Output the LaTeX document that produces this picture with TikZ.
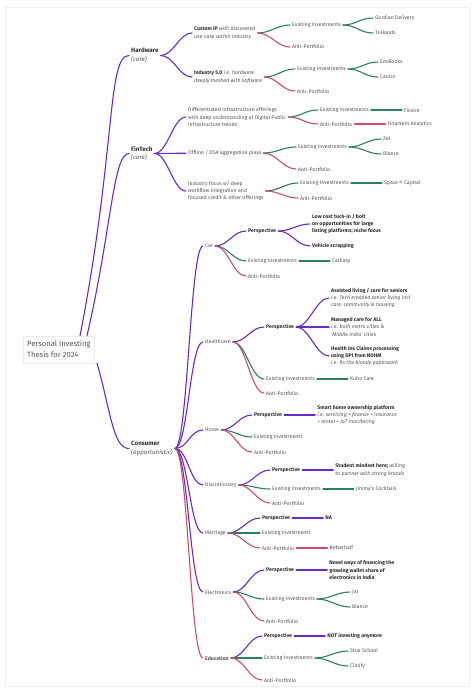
\documentclass[tikz,border=0pt]{standalone}
\usepackage{fontspec}
\setmainfont{Fira Sans}
\usepackage{tikz}
\usetikzlibrary{positioning}

\definecolor{mmpurple}{HTML}{6A2BC4}
\definecolor{mmgreen}{HTML}{2F7D62}
\definecolor{mmred}{HTML}{C8506A}
\definecolor{mmtext}{HTML}{555555}
\definecolor{mmdark}{HTML}{2E2E2E}

\newcommand{\mmbold}[1]{{\bfseries\color{mmdark}#1}}
\newcommand{\mmital}[1]{{\itshape #1}}

\begin{document}
\begin{tikzpicture}[
  x=1pt, y=1pt,
  node distance=31pt,
  item/.style={anchor=west, inner xsep=2pt, inner ysep=1pt, align=left, text=mmtext, font=\fontsize{5.2}{7.3}\selectfont},
  bitem/.style={item, font=\fontsize{5.2}{7.3}\selectfont\bfseries, text=mmdark},
  topic/.style={anchor=west, inner xsep=2pt, inner ysep=1pt, align=left, text=mmtext, font=\fontsize{6.2}{8.8}\selectfont},
  root/.style={anchor=west, draw=black!7, fill=white, inner xsep=4pt, inner ysep=5pt, align=left, text=mmtext, font=\fontsize{7.6}{11}\selectfont},
  link/.style={line width=1.1pt, line cap=round},
  plink/.style={link, mmpurple},
  glink/.style={link, mmgreen},
  rlink/.style={link, mmred},
  fork/.style={out=0, in=180, distance=13pt}
]
  \useasboundingbox (0,0) rectangle (474,-691);
  \draw[black!6, line width=0.6pt] (5,-7) rectangle (469,-686);

  \node[root] (root) at (23,-349.5) {Personal Investing\\Thesis for 2024};

  % core themes
  \node[topic] (hw) at (129,-55.5) {\mmbold{Hardware}\\\mmital{(core)}};
  \node[topic] (ft) at (129,-153.5) {\mmbold{FinTech}\\\mmital{(core)}};
  \node[topic] (cs) at (129,-448.5) {\mmbold{Consumer}\\\mmital{(opportunistic)}};

  \draw[plink] ([xshift=57pt]root.north west) to[out=79, in=180, out distance=190pt, in distance=22pt] (hw);
  \draw[plink] ([xshift=64pt]root.north west) to[out=77, in=180, out distance=110pt, in distance=16pt] (ft);
  \draw[plink] ([xshift=74pt]root.south west) to[out=-74, in=180, out distance=50pt, in distance=16pt] (cs);

  % hardware
  \node[item] (cip) at (192,-33) {\mmbold{Custom IP} \mmital{with discovered}\\\mmital{use-case within industry}};
  \node[item] (ind) at (192,-77) {\mmbold{Industry 5.0} \mmital{i.e. hardware}\\\mmital{deeply meshed with software}};
  \node[item] (cipEI) at (290,-25) {Existing Investments};
  \node[item] (cipAP) at (290,-47) {Anti-Portfolio};
  \node[item] (gordian) at (373,-18) {Gordian Delivery};
  \node[item] (tohands) at (373,-33) {ToHands};
  \node[item] (indEI) at (295,-69) {Existing Investments};
  \node[item] (indAP) at (295,-91) {Anti-Portfolio};
  \node[item] (ezo) at (378,-62) {EzoBooks};
  \node[item] (cautio) at (378,-77) {Cautio};

  \draw[plink] (hw) to[fork] (cip);
  \draw[plink] (hw) to[fork] (ind);
  \draw[glink] (cip) to[fork] (cipEI);
  \draw[rlink] (cip) to[fork] (cipAP);
  \draw[glink] (cipEI) to[fork] (gordian);
  \draw[glink] (cipEI) to[fork] (tohands);
  \draw[glink] (ind) to[fork] (indEI);
  \draw[rlink] (ind) to[fork] (indAP);
  \draw[glink] (indEI) to[fork] (ezo);
  \draw[glink] (indEI) to[fork] (cautio);

  % fintech
  \node[item] (dif) at (186,-117) {Differentiated infrastructure offerings\\with deep understanding of Digital Public\\Infrastructure trends};
  \node[item] (off) at (186,-153) {Offline / DSA aggregation plays};
  \node[item] (fin) at (186,-191) {Industry focus w/ deep\\workflow integration and\\focused credit \& other offerings};
  \node[item] (difEI) at (318,-110) {Existing Investments};
  \node[item] (difAP) at (318,-124) {Anti-Portfolio};
  \node[item, right=of difEI] (finsire) {Finsire};
  \node[item, right=of difAP] (finarkein) {Finarkein Analytics};
  \node[item] (offEI) at (296,-147) {Existing Investments};
  \node[item] (offAP) at (296,-169) {Anti-Portfolio};
  \node[item] (zet) at (381,-139) {Zet};
  \node[item] (blance) at (381,-154) {Blance};
  \node[item] (finEI) at (298,-183) {Existing Investments};
  \node[item] (finAP) at (298,-198) {Anti-Portfolio};
  \node[item, right=of finEI] (spacey) {Space-Y Capital};

  \draw[plink] (ft) to[fork] (dif);
  \draw[plink] (ft) -- (off);
  \draw[plink] (ft) to[fork] (fin);
  \draw[glink] (dif) to[fork] (difEI);
  \draw[rlink] (dif) to[fork] (difAP);
  \draw[glink] (difEI) -- (finsire);
  \draw[rlink] (difAP) -- (finarkein);
  \draw[glink] (off) to[fork] (offEI);
  \draw[rlink] (off) to[fork] (offAP);
  \draw[glink] (offEI) to[fork] (zet);
  \draw[glink] (offEI) to[fork] (blance);
  \draw[glink] (fin) to[fork] (finEI);
  \draw[rlink] (fin) to[fork] (finAP);
  \draw[glink] (finEI) -- (spacey);

  % consumer
  \node[item] (car) at (203,-246) {Car};
  \node[item] (hc) at (203,-342) {Healthcare};
  \node[item] (home) at (203,-430) {Home};
  \node[item] (disc) at (203,-485) {Discretionary};
  \node[item] (marr) at (203,-533) {Marriage};
  \node[item] (elec) at (203,-592) {Electronics};
  \node[item, font=\fontsize{5.2}{7.3}\selectfont\bfseries] (edu) at (203,-658) {Education};

  \foreach \cat in {car,hc,home,disc,marr,elec}
    \draw[plink] (cs) to[fork] (\cat);
  \draw[rlink] (cs) to[fork] (edu);

  % car
  \node[bitem] (carP) at (246,-231) {Perspective};
  \node[item] (carEI) at (246,-261) {Existing Investments};
  \node[item] (carAP) at (246,-276) {Anti-Portfolio};
  \node[bitem] (lowcost) at (310,-224) {Low cost tuck-in / bolt\\on opportunities for large\\listing platforms; niche focus};
  \node[bitem] (vehicle) at (310,-246) {Vehicle scrapping};
  \node[item, right=of carEI] (careasy) {CarEasy};

  \draw[plink] (car) to[fork] (carP);
  \draw[glink] (car) to[fork] (carEI);
  \draw[rlink] (car) to[fork] (carAP);
  \draw[plink] (carP) to[fork] (lowcost);
  \draw[plink] (carP) to[fork] (vehicle);
  \draw[glink] (carEI) -- (careasy);

  % healthcare
  \node[bitem] (hcP) at (264,-327) {Perspective};
  \node[item] (hcEI) at (264,-379) {Existing Investments};
  \node[item] (hcAP) at (264,-393) {Anti-Portfolio};
  \node[item] (assist) at (329,-298) {\mmbold{Assisted living / care for seniors}\\\mmital{i.e. Tech enabled senior living incl}\\\mmital{care, community \& housing}};
  \node[item] (managed) at (329,-327) {\mmbold{Managed care for ALL}\\\mmital{i.e. both metro cities \&}\\\mmital{`Middle India' cities}};
  \node[item] (claims) at (329,-356) {\mmbold{Health Ins Claims processing}\\\mmbold{using DPI from NDHM}\\\mmital{i.e. fix the bloody paperwork}};
  \node[item, right=of hcEI] (kubo) {Kubo Care};

  \draw[plink] (hc) to[fork] (hcP);
  \draw[glink] (hc) to[fork] (hcEI);
  \draw[rlink] (hc) to[fork] (hcAP);
  \draw[plink] (hcP) to[fork] (assist);
  \draw[plink] (hcP) -- (managed);
  \draw[plink] (hcP) to[fork] (claims);
  \draw[glink] (hcEI) -- (kubo);

  % home
  \node[bitem] (homeP) at (252,-415) {Perspective};
  \node[item] (homeEI) at (252,-437) {Existing Investments};
  \node[item] (homeAP) at (252,-452) {Anti-Portfolio};
  \node[item, right=of homeP] (smart) {\mmbold{Smart home ownership platform}\\\mmital{i.e. servicing + finance + insurance}\\\mmital{+ rental + IoT monitoring}};

  \draw[plink] (home) to[fork] (homeP);
  \draw[glink] (home) to[fork] (homeEI);
  \draw[rlink] (home) to[fork] (homeAP);
  \draw[plink] (homeP) -- (smart);

  % discretionary
  \node[bitem] (discP) at (270,-470) {Perspective};
  \node[item] (discEI) at (270,-489) {Existing Investments};
  \node[item] (discAP) at (270,-503) {Anti-Portfolio};
  \node[item, right=of discP] (student) {\mmbold{Student mindset here;} \mmital{willing}\\\mmital{to partner with strong brands}};
  \node[item, right=of discEI] (jimmy) {Jimmy's Cocktails};

  \draw[plink] (disc) to[fork] (discP);
  \draw[glink] (disc) to[fork] (discEI);
  \draw[rlink] (disc) to[fork] (discAP);
  \draw[plink] (discP) -- (student);
  \draw[glink] (discEI) -- (jimmy);

  % marriage
  \node[bitem] (marrP) at (260,-518) {Perspective};
  \node[item] (marrEI) at (260,-533) {Existing Investments};
  \node[item] (marrAP) at (260,-548) {Anti-Portfolio};
  \node[bitem, right=of marrP] (na) {NA};
  \node[item, right=of marrAP] (betterhalf) {Betterhalf};

  \draw[plink] (marr) to[fork] (marrP);
  \draw[glink] (marr) -- (marrEI);
  \draw[rlink] (marr) to[fork] (marrAP);
  \draw[plink] (marrP) -- (na);
  \draw[rlink] (marrAP) -- (betterhalf);

  % electronics
  \node[bitem] (elecP) at (264,-570) {Perspective};
  \node[item] (elecEI) at (264,-599) {Existing Investments};
  \node[item] (elecAP) at (264,-621) {Anti-Portfolio};
  \node[bitem, right=of elecP] (novel) {Novel ways of financing the\\growing wallet share of\\electronics in India};
  \node[item] (jar) at (350,-592) {Jar};
  \node[item] (blance2) at (350,-607) {Blance};

  \draw[plink] (elec) to[fork] (elecP);
  \draw[glink] (elec) to[fork] (elecEI);
  \draw[rlink] (elec) to[fork] (elecAP);
  \draw[plink] (elecP) -- (novel);
  \draw[glink] (elecEI) to[fork] (jar);
  \draw[glink] (elecEI) to[fork] (blance2);

  % education
  \node[bitem] (eduP) at (262,-636) {Perspective};
  \node[item] (eduEI) at (262,-658) {Existing Investments};
  \node[item] (eduAP) at (262,-680) {Anti-Portfolio};
  \node[bitem, right=of eduP] (notinv) {NOT investing anymore};
  \node[item] (stoa) at (348,-651) {Stoa School};
  \node[item] (clinify) at (348,-666) {Clinify};

  \draw[plink] (edu) to[fork] (eduP);
  \draw[glink] (edu) -- (eduEI);
  \draw[rlink] (edu) to[fork] (eduAP);
  \draw[plink] (eduP) -- (notinv);
  \draw[glink] (eduEI) to[fork] (stoa);
  \draw[glink] (eduEI) to[fork] (clinify);
\end{tikzpicture}
\end{document}
